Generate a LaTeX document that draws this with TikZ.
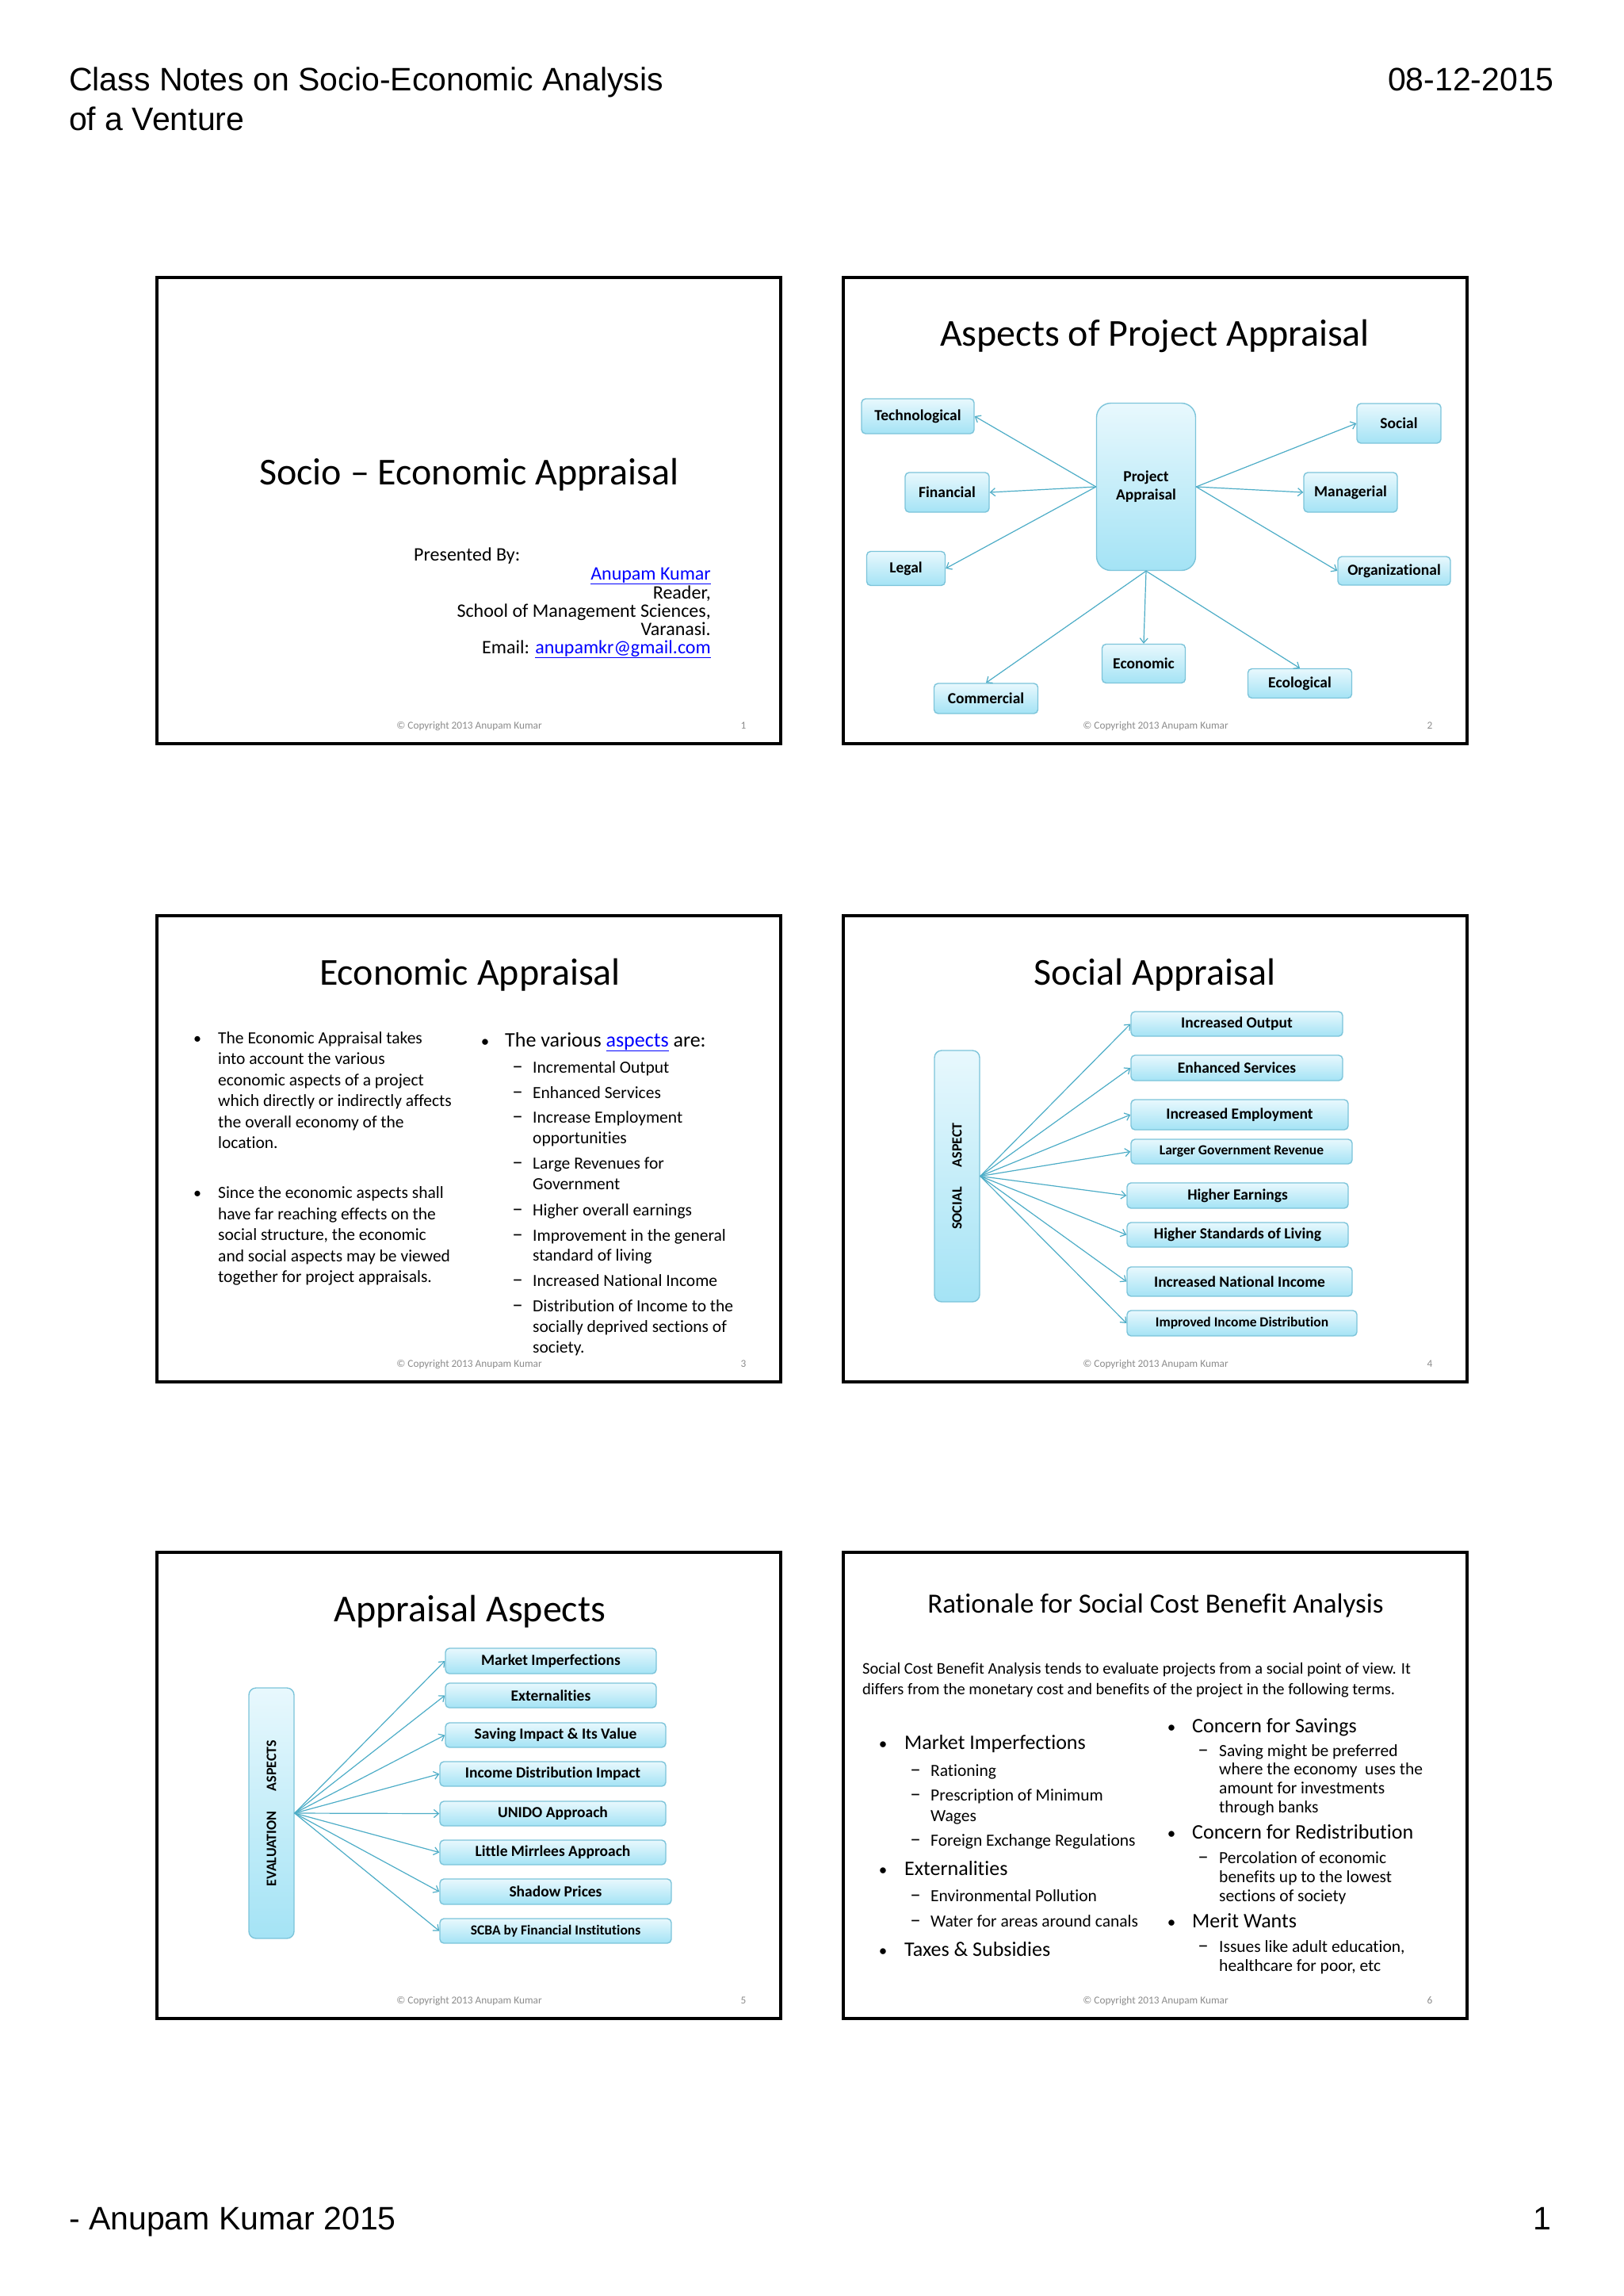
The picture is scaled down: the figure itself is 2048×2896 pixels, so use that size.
\documentclass[tikz,border=0pt]{standalone}
\usepackage{fontspec}
\setmainfont{Carlito}[Ligatures={NoCommon,NoRare,NoDiscretionary}]
\newfontfamily\arialf{Liberation Sans}
\usetikzlibrary{arrows.meta,shadings}
\definecolor{boxtop}{HTML}{E8F8FD}
\definecolor{boxbot}{HTML}{A4E3F5}
\definecolor{boxline}{HTML}{7CC4DA}
\definecolor{arrcol}{HTML}{4DADC7}
\definecolor{linkblue}{HTML}{0000FF}
\definecolor{copygray}{HTML}{8C8C8C}
\newcommand\setfs[2]{\fontsize{#1pt}{#2pt}\selectfont}
\newcommand\Lt[5]{\node[#1] (#2) at (#3,#4) {#5};}
\newcommand\lnk[1]{\textcolor{linkblue}{\underline{#1}}}
\tikzset{
  slideframe/.style={draw=black, line width=4pt},
  abox/.style={draw=boxline, line width=1.4pt, top color=boxtop, bottom color=boxbot, rounded corners=5pt, inner sep=0pt, align=center, font=\bfseries\setfs{19.5}{23}},
  sbox/.style={abox, font=\bfseries\setfs{17.5}{21}},
  arr/.style={draw=arrcol, line width=1.2pt, -{Straight Barb[length=6pt,width=10pt]}},
  ttl/.style={anchor=base, inner sep=0pt, font=\setfs{48}{48}},
  cpy/.style={anchor=base, inner sep=0pt, font=\setfs{13.3}{14}, text=copygray},
  hdr/.style={anchor=base west, inner sep=0pt, font=\arialf\setfs{41}{41}},
  hdrR/.style={anchor=base east, inner sep=0pt, font=\arialf\setfs{41}{41}},
  tA/.style={anchor=base west, inner sep=0pt, font=\setfs{21.5}{21.5}},
  tB/.style={anchor=base west, inner sep=0pt, font=\setfs{26}{26}},
  tC/.style={anchor=base west, inner sep=0pt, font=\setfs{20.5}{20.5}},
  tR/.style={anchor=base east, inner sep=0pt, font=\setfs{24}{24}},
  tP/.style={anchor=base west, inner sep=0pt, font=\setfs{24}{24}},
  bA/.style={anchor=base, inner sep=0pt, font=\setfs{20}{20}},
  bB/.style={anchor=base, inner sep=0pt, font=\setfs{21}{21}},
  dsh/.style={anchor=base, inner sep=0pt, font=\setfs{27}{27}},
  vlab/.style={rotate=90, inner sep=0pt, font=\bfseries\setfs{18}{18}},
}
\begin{document}
\begin{tikzpicture}[x=1pt,y=-1pt]
\fill[white] (0,0) rectangle (2048,2896);
\useasboundingbox (0,0) rectangle (2048,2896);

% page header / footer
\Lt{hdr}{h1}{87}{114}{Class Notes on Socio-Economic Analysis}
\Lt{hdr}{h2}{87}{164}{of a Venture}
\Lt{hdrR}{h3}{1961}{114}{08-12-2015}
\Lt{hdr}{f1}{87}{2812}{- Anupam Kumar 2015}
\Lt{hdrR}{f2}{1957}{2812}{1}

% slide frames, copyright, numbers
\foreach \sx/\sy/\n in {198/350/1, 1064/350/2, 198/1155/3, 1064/1155/4, 198/1958/5, 1064/1958/6} {
  \draw[slideframe] (\sx,\sy) rectangle ++(787,588);
  \node[cpy] (cp\n) at (\sx+394,\sy+569) {© Copyright 2013 Anupam Kumar};
  \node[cpy] (pn\n) at (\sx+740,\sy+569) {\n};
}

% ---------- slide 1
\node[ttl] (t1) at (592,611) {Socio – Economic Appraisal};
\Lt{tP}{pb}{522}{707}{Presented By:}
\Lt{tR}{r1}{897}{731}{\lnk{Anupam Kumar}}
\Lt{tR}{r2}{897}{755}{Reader,}
\Lt{tR}{r3}{897}{778}{School of Management Sciences,}
\Lt{tR}{r4}{897}{801}{Varanasi.}
\Lt{tR}{r5}{897}{824}{Email: \lnk{anupamkr@gmail.com}}

% ---------- slide 2
\node[ttl] (t2) at (1457,436) {Aspects of Project Appraisal};
\node[abox, minimum width=125pt, minimum height=211pt, rounded corners=18pt] (pa) at (1446,614) {Project\\Appraisal};
\node[abox, minimum width=142pt, minimum height=44pt] (tech) at (1158,525) {Technological};
\node[abox, minimum width=106pt, minimum height=50pt] (fin) at (1195,621) {Financial};
\node[abox, minimum width=99pt, minimum height=43pt] (leg) at (1143,717) {Legal};
\node[abox, minimum width=106pt, minimum height=50pt] (soc) at (1765,534) {Social};
\node[abox, minimum width=118pt, minimum height=50pt] (man) at (1704,621) {Managerial};
\node[abox, minimum width=142pt, minimum height=36pt] (org) at (1759,720) {Organizational};
\node[abox, minimum width=131pt, minimum height=38pt] (com) at (1244,881) {Commercial};
\node[abox, minimum width=105pt, minimum height=49pt] (eco) at (1443,837) {Economic};
\node[abox, minimum width=131pt, minimum height=37pt] (ecl) at (1640,862) {Ecological};
\draw[arr] (pa.west) -- (tech.east);
\draw[arr] (pa.west) -- (fin.east);
\draw[arr] (pa.west) -- (leg.east);
\draw[arr] (pa.east) -- (soc.west);
\draw[arr] (pa.east) -- (man.west);
\draw[arr] (pa.east) -- (org.west);
\draw[arr] (pa.south) -- (com.north);
\draw[arr] (pa.south) -- (eco.north);
\draw[arr] (pa.south) -- (ecl.north);

% ---------- slide 3
\node[ttl] (t3) at (593,1242) {Economic Appraisal};
\Lt{bA}{e0}{249}{1316}{•}
\Lt{tA}{e1}{275}{1316}{The Economic Appraisal takes}
\Lt{tA}{e2}{275}{1342.5}{into account the various}
\Lt{tA}{e3}{275}{1369}{economic aspects of a project}
\Lt{tA}{e4}{275}{1395.5}{which directly or indirectly affects}
\Lt{tA}{e5}{275}{1422}{the overall economy of the}
\Lt{tA}{e6}{275}{1448.5}{location.}
\Lt{bA}{e7}{249}{1511.5}{•}
\Lt{tA}{e8}{275}{1511.5}{Since the economic aspects shall}
\Lt{tA}{e9}{275}{1538}{have far reaching effects on the}
\Lt{tA}{e10}{275}{1564.5}{social structure, the economic}
\Lt{tA}{e11}{275}{1591}{and social aspects may be viewed}
\Lt{tA}{e12}{275}{1617.5}{together for project appraisals.}
\Lt{bB}{g0}{612}{1320}{•}
\Lt{tB}{g1}{637}{1320}{The various \lnk{aspects} are:}
\foreach \yy/\tt [count=\i] in {1353/{Incremental Output},1385/{Enhanced Services},1416.5/{Increase Employment},1474/{Large Revenues for},1533/{Higher overall earnings},1565/{Improvement in the general},1622/{Increased National Income},1654/{Distribution of Income to the}} {
  \node[dsh] (gd\i) at (653,\yy) {–};
  \node[tA] (gt\i) at (672,\yy) {\tt};
}
\Lt{tA}{gx1}{672}{1442}{opportunities}
\Lt{tA}{gx2}{672}{1500}{Government}
\Lt{tA}{gx3}{672}{1590}{standard of living}
\Lt{tA}{gx4}{672}{1680}{socially deprived sections of}
\Lt{tA}{gx5}{672}{1706}{society.}

% ---------- slide 4
\node[ttl] (t4) at (1457,1242) {Social Appraisal};
\node[abox, minimum width=57pt, minimum height=317pt, rounded corners=9pt] (sa) at (1207.5,1483.5) {};
\node[vlab] (sal) at (sa.center) {SOCIAL\hspace{1.4em}ASPECT};
\node[abox, minimum width=267pt, minimum height=31pt] (sb1) at (1560.5,1291.5) {Increased Output};
\node[abox, minimum width=267pt, minimum height=32pt] (sb2) at (1560.5,1347) {Enhanced Services};
\node[abox, minimum width=274pt, minimum height=38pt] (sb3) at (1564,1406) {Increased Employment};
\node[sbox, minimum width=279pt, minimum height=31pt] (sb4) at (1566.5,1452.5) {Larger Government Revenue};
\node[abox, minimum width=279pt, minimum height=32pt] (sb5) at (1561.5,1508) {Higher Earnings};
\node[abox, minimum width=279pt, minimum height=31pt] (sb6) at (1561.5,1557.5) {Higher Standards of Living};
\node[abox, minimum width=284pt, minimum height=37pt] (sb7) at (1564,1616.5) {Increased National Income};
\node[sbox, minimum width=290pt, minimum height=32pt] (sb8) at (1567,1669) {Improved Income Distribution};
\foreach \i in {1,...,8} \draw[arr] (sa.east) -- (sb\i.west);

% ---------- slide 5
\node[ttl] (t5) at (593,2045) {Appraisal Aspects};
\node[abox, minimum width=57pt, minimum height=316pt, rounded corners=9pt] (ea) at (342.5,2287) {};
\node[vlab] (eal) at (ea.center) {EVALUATION\hspace{1.4em}ASPECTS};
\node[abox, minimum width=266pt, minimum height=32pt] (eb1) at (695,2095) {Market Imperfections};
\node[abox, minimum width=266pt, minimum height=31pt] (eb2) at (695,2138.5) {Externalities};
\node[abox, minimum width=278pt, minimum height=31pt] (eb3) at (701,2188.5) {Saving Impact \& Its Value};
\node[abox, minimum width=285pt, minimum height=31pt] (eb4) at (697.5,2237.5) {Income Distribution Impact};
\node[abox, minimum width=285pt, minimum height=31pt] (eb5) at (697.5,2287.5) {UNIDO Approach};
\node[abox, minimum width=285pt, minimum height=31pt] (eb6) at (697.5,2336.5) {Little Mirrlees Approach};
\node[abox, minimum width=292pt, minimum height=32pt] (eb7) at (701,2386) {Shadow Prices};
\node[sbox, minimum width=292pt, minimum height=31pt] (eb8) at (701,2435.5) {SCBA by Financial Institutions};
\foreach \i in {1,...,8} \draw[arr] (ea.east) -- (eb\i.west);

% ---------- slide 6
\node[anchor=base, inner sep=0pt, font=\setfs{35}{35}] (t6) at (1458,2034) {Rationale for Social Cost Benefit Analysis};
\Lt{tC}{p1}{1088}{2111}{Social Cost Benefit Analysis tends to evaluate projects from a social point of view. It}
\Lt{tC}{p2}{1088}{2137}{differs from the monetary cost and benefits of the project in the following terms.}
\foreach \yy/\tt [count=\i] in {2206/{Market Imperfections},2365/{Externalities},2467/{Taxes \& Subsidies}} {
  \node[bB] (lb\i) at (1114,\yy) {•};
  \node[tB] (lt\i) at (1141,\yy) {\tt};
}
\foreach \yy/\tt [count=\i] in {2240/{Rationing},2271/{Prescription of Minimum},2328/{Foreign Exchange Regulations},2398/{Environmental Pollution},2430/{Water for areas around canals}} {
  \node[dsh] (ld\i) at (1155,\yy) {–};
  \node[tA] (ls\i) at (1174,\yy) {\tt};
}
\Lt{tA}{lx1}{1174}{2297}{Wages}
\foreach \yy/\tt [count=\i] in {2185/{Concern for Savings},2319/{Concern for Redistribution},2431/{Merit Wants}} {
  \node[bB] (rb\i) at (1478,\yy) {•};
  \node[tB] (rt\i) at (1504,\yy) {\tt};
}
\foreach \yy/\tt [count=\i] in {2215/{Saving might be preferred},2350/{Percolation of economic},2462/{Issues like adult education,}} {
  \node[dsh] (rd\i) at (1518,\yy) {–};
  \node[tA] (rs\i) at (1538,\yy) {\tt};
}
\Lt{tA}{rx1}{1538}{2238}{where the economy\ \ uses the}
\Lt{tA}{rx2}{1538}{2262}{amount for investments}
\Lt{tA}{rx3}{1538}{2286}{through banks}
\Lt{tA}{rx4}{1538}{2374}{benefits up to the lowest}
\Lt{tA}{rx5}{1538}{2398}{sections of society}
\Lt{tA}{rx6}{1538}{2486}{healthcare for poor, etc}
\end{tikzpicture}
\end{document}
